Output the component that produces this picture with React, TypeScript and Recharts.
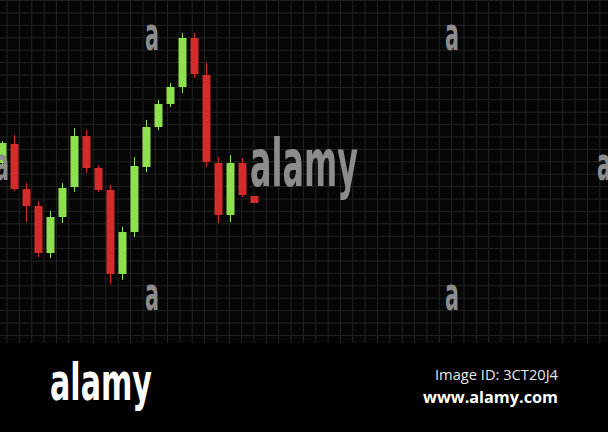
import { Bar, ComposedChart, ReferenceLine, XAxis, YAxis } from "recharts";

// candle values (one slot per candle)
const OPEN = [177, 196, 151, 134, 87, 123, 153, 204, 172, 150, 66, 108, 173, 213, 236, 253, 302, 265, 177, 125, 177, 144];
const HIGH = [199, 205, 157, 139, 129, 157, 212, 210, 175, 155, 113, 183, 220, 240, 257, 307, 307, 277, 183, 185, 182, 144];
const LOW = [172, 149, 118, 83, 82, 117, 148, 167, 148, 56, 60, 103, 168, 210, 233, 247, 262, 173, 117, 118, 143, 137];
const CLOSE = [197, 151, 134, 87, 123, 152, 204, 172, 150, 66, 108, 174, 213, 236, 253, 302, 266, 178, 125, 177, 145, 137];

const GREEN = "#8fe04e";
const RED = "#d22d2b";
const GRID = "#232323";
const MARK = "#8c8c8c";

const W = 608;
const H = 432;
const CHART_H = 343;
const SLOT = 12;

// x domain: first candle sits 2.5px from the left edge
const X_MIN = -2.5 / SLOT;
const X_MAX = X_MIN + W / SLOT;
const Y_MIN = -3;
const Y_MAX = 340;

const rows = OPEN.map((o, i) => ({
  i,
  open: o,
  high: HIGH[i],
  low: LOW[i],
  close: CLOSE[i],
}));

// grid spacing in the picture is a bit wider than a candle slot
const GRID_STEP = 12.35;
const xGridTicks = Array.from({ length: 49 }, (_, k) => X_MIN + (7 + k * GRID_STEP) / SLOT);
const yGridTicks = Array.from({ length: 28 }, (_, k) => Y_MAX - (0.6 + k * 12.4));

const Candle = (props: any) => {
  const { x, y, width, height, payload } = props;
  if (!payload) return null;
  const { open, close, high, low } = payload;
  const top = Math.min(y, y + height);
  const h = Math.abs(height);
  const ratio = h / (high - low || 1);
  const bodyTop = top + (high - Math.max(open, close)) * ratio;
  const bodyH = Math.max(Math.abs(open - close) * ratio, 1);
  const color = close >= open ? GREEN : RED;
  const cx = x + width / 2;
  return (
    <g>
      <line x1={cx} x2={cx} y1={top} y2={top + h} stroke={color} strokeWidth={1} />
      <rect x={x} y={bodyTop} width={width} height={bodyH} fill={color} />
    </g>
  );
};

const markFont = "'Liberation Sans Narrow', 'DejaVu Sans Condensed', 'DejaVu Sans', sans-serif";

const SmallA = ({ x, y }: { x: number; y: number }) => (
  <text
    x={x}
    y={y}
    fontSize={46}
    fontWeight="bold"
    fontFamily={markFont}
    textLength={14}
    lengthAdjust="spacingAndGlyphs"
    fill={MARK}
  >
    a
  </text>
);

const axes = (
  <>
    <XAxis dataKey="i" type="number" domain={[X_MIN, X_MAX]} allowDataOverflow hide />
    <YAxis type="number" domain={[Y_MIN, Y_MAX]} allowDataOverflow hide />
  </>
);

const layer: React.CSSProperties = { position: "absolute", left: 0, top: 0 };

export default function App() {
  return (
    <div
      style={{
        position: "fixed",
        left: 0,
        top: 0,
        width: W,
        height: H,
        background: "#000",
        overflow: "hidden",
      }}
    >
      {/* grid layer, under the candles */}
      <div style={{ ...layer, width: W, height: CHART_H, background: "#050505" }}>
        <ComposedChart
          width={W}
          height={CHART_H}
          data={rows}
          margin={{ top: 0, right: 0, bottom: 0, left: 0 }}
        >
          <XAxis dataKey="i" type="number" domain={[X_MIN, X_MAX]} allowDataOverflow hide />
          <YAxis type="number" domain={[Y_MIN, Y_MAX]} allowDataOverflow hide />
          {xGridTicks.map((v) => (
            <ReferenceLine key={`gx-${v}`} x={v} stroke={GRID} strokeWidth={1} />
          ))}
          {yGridTicks.map((v) => (
            <ReferenceLine key={`gy-${v}`} y={v} stroke={GRID} strokeWidth={1} />
          ))}
        </ComposedChart>
      </div>

      <div style={layer}>
        <ComposedChart
          width={W}
          height={CHART_H}
          data={rows}
          margin={{ top: 0, right: 0, bottom: 0, left: 0 }}
        >
          <XAxis dataKey="i" type="number" domain={[X_MIN, X_MAX]} allowDataOverflow hide />
          <YAxis type="number" domain={[Y_MIN, Y_MAX]} allowDataOverflow hide />
          <Bar
            dataKey={(d: any) => [d.low, d.high]}
            barSize={8}
            shape={<Candle />}
            isAnimationActive={false}
          />
        </ComposedChart>
      </div>

      {/* watermark and banner text */}
      <svg width={W} height={H} style={{ ...layer, pointerEvents: "none" }}>
        <SmallA x={145} y={50} />
        <SmallA x={445} y={50} />
        <SmallA x={145} y={310} />
        <SmallA x={445} y={310} />
        <SmallA x={-5} y={180} />
        <SmallA x={597} y={180} />
        <text
          x={250}
          y={186}
          fontSize={66}
          fontWeight="bold"
          fontFamily={markFont}
          textLength={108}
          lengthAdjust="spacingAndGlyphs"
          fill={MARK}
        >
          alamy
        </text>

        <text
          x={50}
          y={400}
          fontSize={52}
          fontWeight="bold"
          fontFamily={markFont}
          textLength={102}
          lengthAdjust="spacingAndGlyphs"
          fill="#fff"
        >
          alamy
        </text>
        <text
          x={435}
          y={380}
          fontSize={14.5}
          fontFamily="'Open Sans', 'Noto Sans', sans-serif"
          textLength={123}
          lengthAdjust="spacingAndGlyphs"
          fill="#e8e8e8"
        >
          Image ID: 3CT20J4
        </text>
        <text
          x={423}
          y={403}
          fontSize={15.5}
          fontWeight="bold"
          fontFamily="'Open Sans', 'Noto Sans', sans-serif"
          textLength={135}
          lengthAdjust="spacingAndGlyphs"
          fill="#fff"
        >
          www.alamy.com
        </text>
      </svg>
    </div>
  );
}
